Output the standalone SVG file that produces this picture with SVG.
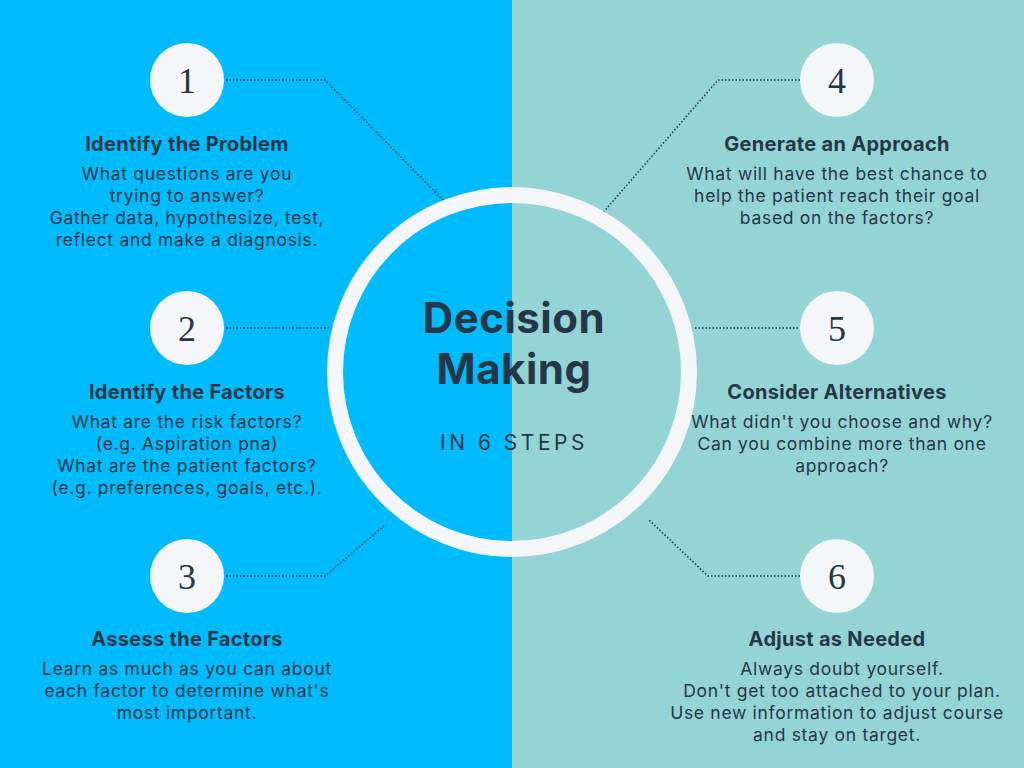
<svg xmlns="http://www.w3.org/2000/svg" width="1024" height="768" viewBox="0 0 1024 768">
<style>
.num{font-family:"Liberation Serif",serif;font-size:36px;fill:#253746;text-anchor:middle}
.h{font-family:Inter,"Liberation Sans",sans-serif;font-weight:bold;font-size:20px;letter-spacing:0.3px;fill:#253746;text-anchor:middle}
.b{font-family:Inter,"Liberation Sans",sans-serif;font-size:17.5px;letter-spacing:0.7px;fill:#253746;text-anchor:middle}
.c{fill:#f4f6fa}
.d{fill:none;stroke:#253746;stroke-width:1.6;stroke-dasharray:1.5 2}
</style>
<rect x="0" y="0" width="512" height="768" fill="#00bbfd"/>
<rect x="512" y="0" width="512" height="768" fill="#94d4d4"/>
<g id="connectors">
<polyline class="d" points="226,80 325,80 448,205"/>
<polyline class="d" points="226,328 330,328"/>
<polyline class="d" points="226,576 325,576 385,525"/>
<polyline class="d" points="800,80 718,80 601,215"/>
<polyline class="d" points="695,328 800,328"/>
<polyline class="d" points="800,576 708,576 648,519"/>
</g>
<g id="center">
<circle cx="512" cy="372" r="177" fill="none" stroke="#f4f6fa" stroke-width="16"/>
<text x="514" y="333" font-family="Inter,'Liberation Sans',sans-serif" font-weight="bold" font-size="42" letter-spacing="0.5" fill="#253746" text-anchor="middle">Decision</text>
<text x="514" y="384" font-family="Inter,'Liberation Sans',sans-serif" font-weight="bold" font-size="42" letter-spacing="0.5" fill="#253746" text-anchor="middle">Making</text>
<text x="514" y="450" font-family="Inter,'Liberation Sans',sans-serif" font-size="21" letter-spacing="3.5" fill="#253746" text-anchor="middle">IN 6 STEPS</text>
</g>
<g id="step1">
<circle class="c" cx="187" cy="80" r="37"/><text class="num" x="187" y="93">1</text>
<text class="h" x="187" y="151">Identify the Problem</text>
<text class="b" x="187" y="180">What questions are you</text>
<text class="b" x="187" y="202">trying to answer?</text>
<text class="b" x="187" y="224">Gather data, hypothesize, test,</text>
<text class="b" x="187" y="246">reflect and make a diagnosis.</text>
</g>
<g id="step2">
<circle class="c" cx="187" cy="328" r="37"/><text class="num" x="187" y="341">2</text>
<text class="h" x="187" y="399">Identify the Factors</text>
<text class="b" x="187" y="428">What are the risk factors?</text>
<text class="b" x="187" y="450">(e.g. Aspiration pna)</text>
<text class="b" x="187" y="472">What are the patient factors?</text>
<text class="b" x="187" y="494">(e.g. preferences, goals, etc.).</text>
</g>
<g id="step3">
<circle class="c" cx="187" cy="576" r="37"/><text class="num" x="187" y="589">3</text>
<text class="h" x="187" y="646">Assess the Factors</text>
<text class="b" x="187" y="675">Learn as much as you can about</text>
<text class="b" x="187" y="697">each factor to determine what's</text>
<text class="b" x="187" y="719">most important.</text>
</g>
<g id="step4">
<circle class="c" cx="837" cy="80" r="37"/><text class="num" x="837" y="93">4</text>
<text class="h" x="837" y="151">Generate an Approach</text>
<text class="b" x="837" y="180">What will have the best chance to</text>
<text class="b" x="837" y="202">help the patient reach their goal</text>
<text class="b" x="837" y="224">based on the factors?</text>
</g>
<g id="step5">
<circle class="c" cx="837" cy="328" r="37"/><text class="num" x="837" y="341">5</text>
<text class="h" x="837" y="399">Consider Alternatives</text>
<text class="b" x="842" y="428">What didn't you choose and why?</text>
<text class="b" x="842" y="450">Can you combine more than one</text>
<text class="b" x="842" y="472">approach?</text>
</g>
<g id="step6">
<circle class="c" cx="837" cy="576" r="37"/><text class="num" x="837" y="589">6</text>
<text class="h" x="837" y="646">Adjust as Needed</text>
<text class="b" x="842" y="675">Always doubt yourself.</text>
<text class="b" x="842" y="697">Don't get too attached to your plan.</text>
<text class="b" x="837" y="719">Use new information to adjust course</text>
<text class="b" x="837" y="741">and stay on target.</text>
</g>
</svg>
